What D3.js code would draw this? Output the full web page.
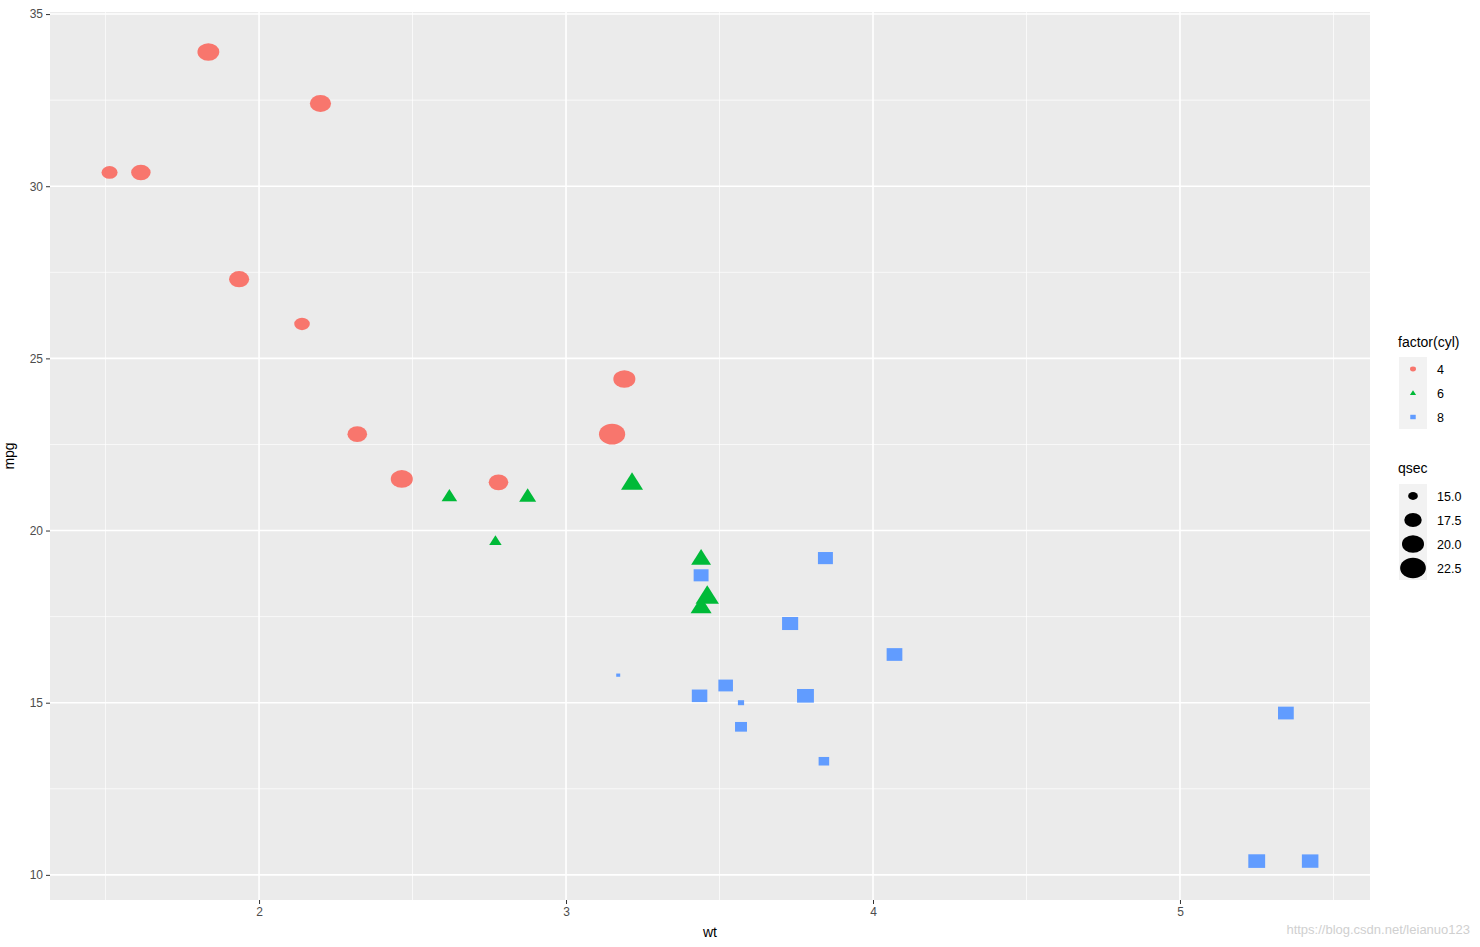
<!DOCTYPE html>
<html lang="en">
<head>
<meta charset="UTF-8">
<script src="https://cdn.jsdelivr.net/npm/d3@7"></script>
<style>
body{margin:0;background:#fff;font-family:"Liberation Sans",Arial,sans-serif;}
.tick text{fill:#4d4d4d;font-size:12px;}
</style>
</head>
<body>
<svg id="main" width="1480" height="947"></svg>
<script>
// mtcars: weight, mpg, cylinders, qsec
const wt   = [2.620,2.875,2.320,3.215,3.440,3.460,3.570,3.190,3.150,3.440,3.440,4.070,3.730,3.780,5.250,5.424,5.345,2.200,1.615,1.835,2.465,3.520,3.435,3.840,3.845,1.935,2.140,1.513,3.170,2.770,3.570,2.780];
const mpg  = [21.0,21.0,22.8,21.4,18.7,18.1,14.3,24.4,22.8,19.2,17.8,16.4,17.3,15.2,10.4,10.4,14.7,32.4,30.4,33.9,21.5,15.5,15.2,13.3,19.2,27.3,26.0,30.4,15.8,19.7,15.0,21.4];
const cyl  = [6,6,4,6,8,6,8,4,4,6,6,8,8,8,8,8,8,4,4,4,4,8,8,8,8,4,4,4,8,6,8,4];
const qsec = [16.46,17.02,18.61,19.44,17.02,20.22,15.84,20.00,22.90,18.30,18.90,17.40,17.60,18.00,17.98,17.82,17.42,19.47,18.52,19.90,20.01,16.87,17.30,15.41,17.05,18.90,16.70,16.90,14.50,15.50,14.60,18.60];
const cylLevels = ["4","6","8"];
const cylColors = ["#F8766D","#00BA38","#619CFF"];
const qsecBreaks = [15.0,17.5,20.0,22.5];
const xTicks = [2,3,4,5];
const yTicks = [10,15,20,25,30,35];

const svg = d3.select('svg#main');
const P = {l:50, r:1370, t:12, b:900};
const x = d3.scaleLinear().domain([1.319,5.619]).range([P.l,P.r]);
const y = d3.scaleLinear().domain([9.27,35.06]).range([P.b,P.t]);
const qExt = d3.extent(qsec);
const size = q => 1 + 5*Math.sqrt((q-qExt[0])/(qExt[1]-qExt[0]));
const pxR = s => s*1.9;

svg.append('rect').attr('x',P.l).attr('y',P.t).attr('width',P.r-P.l).attr('height',P.b-P.t).attr('fill','#EBEBEB');
const g = svg.append('g');
[1.5,2.5,3.5,4.5,5.5].forEach(v=>g.append('line').attr('x1',x(v)).attr('x2',x(v)).attr('y1',P.t).attr('y2',P.b).attr('stroke','#fff').attr('stroke-width',0.7));
[12.5,17.5,22.5,27.5,32.5].forEach(v=>g.append('line').attr('y1',y(v)).attr('y2',y(v)).attr('x1',P.l).attr('x2',P.r).attr('stroke','#fff').attr('stroke-width',0.7));
xTicks.forEach(v=>g.append('line').attr('x1',x(v)).attr('x2',x(v)).attr('y1',P.t).attr('y2',P.b).attr('stroke','#fff').attr('stroke-width',1.6));
yTicks.forEach(v=>g.append('line').attr('y1',y(v)).attr('y2',y(v)).attr('x1',P.l).attr('x2',P.r).attr('stroke','#fff').attr('stroke-width',1.6));

svg.append('g').attr('transform','translate(0,'+P.b+')')
  .call(d3.axisBottom(x).tickValues(xTicks).tickFormat(d3.format('d')).tickSize(4))
  .call(a=>{a.select('.domain').remove();a.selectAll('line').attr('stroke','#333');});
svg.append('g').attr('transform','translate('+P.l+',0)')
  .call(d3.axisLeft(y).tickValues(yTicks).tickSize(4))
  .call(a=>{a.select('.domain').remove();a.selectAll('line').attr('stroke','#333');});
svg.append('text').attr('x',(P.l+P.r)/2).attr('y',937).attr('text-anchor','middle').attr('font-size',14).text('wt');
svg.append('text').attr('transform','translate(14,'+((P.t+P.b)/2)+') rotate(-90)').attr('text-anchor','middle').attr('font-size',14).text('mpg');

function mark(sel, c, r){
  if(c==='4') return sel.append('ellipse').attr('rx',r*1.15).attr('ry',r*0.92);
  if(c==='6') return sel.append('path').attr('d',`M0,${-r*1.1}L${r*1.2},${r*0.8}L${-r*1.2},${r*0.8}Z`);
  return sel.append('rect').attr('x',-r*1.05).attr('y',-r*0.85).attr('width',r*2.1).attr('height',r*1.7);
}
wt.forEach((w,i)=>{
  const c = String(cyl[i]);
  const gg = svg.append('g').attr('transform',`translate(${x(w)},${y(mpg[i])})`);
  mark(gg,c,pxR(size(qsec[i]))).attr('fill',cylColors[cylLevels.indexOf(c)]);
});

// legends
svg.append('text').attr('x',1398).attr('y',347).attr('font-size',14).text('factor(cyl)');
cylLevels.forEach((c,i)=>{
  const yy = 369+i*24;
  svg.append('rect').attr('x',1399).attr('y',yy-12).attr('width',28).attr('height',24).attr('fill','#F2F2F2');
  const gg = svg.append('g').attr('transform',`translate(1413,${yy})`);
  mark(gg,c,2.6).attr('fill',cylColors[i]);
  svg.append('text').attr('x',1437).attr('y',yy+4.5).attr('font-size',12.5).text(c);
});
svg.append('text').attr('x',1398).attr('y',473).attr('font-size',14).text('qsec');
qsecBreaks.forEach((q,i)=>{
  const yy = 496+i*24;
  svg.append('rect').attr('x',1399).attr('y',yy-12).attr('width',28).attr('height',24).attr('fill','#F2F2F2');
  svg.append('ellipse').attr('cx',1413).attr('cy',yy).attr('rx',pxR(size(q))*1.15).attr('ry',pxR(size(q))*0.92).attr('fill','#000');
  svg.append('text').attr('x',1437).attr('y',yy+4.5).attr('font-size',12.5).text(d3.format('.1f')(q));
});
svg.append('text').attr('x',1470).attr('y',934).attr('text-anchor','end').attr('font-size',13).attr('fill','#d0d0d0').text('https://blog.csdn.net/leianuo123');
</script>
</body>
</html>
